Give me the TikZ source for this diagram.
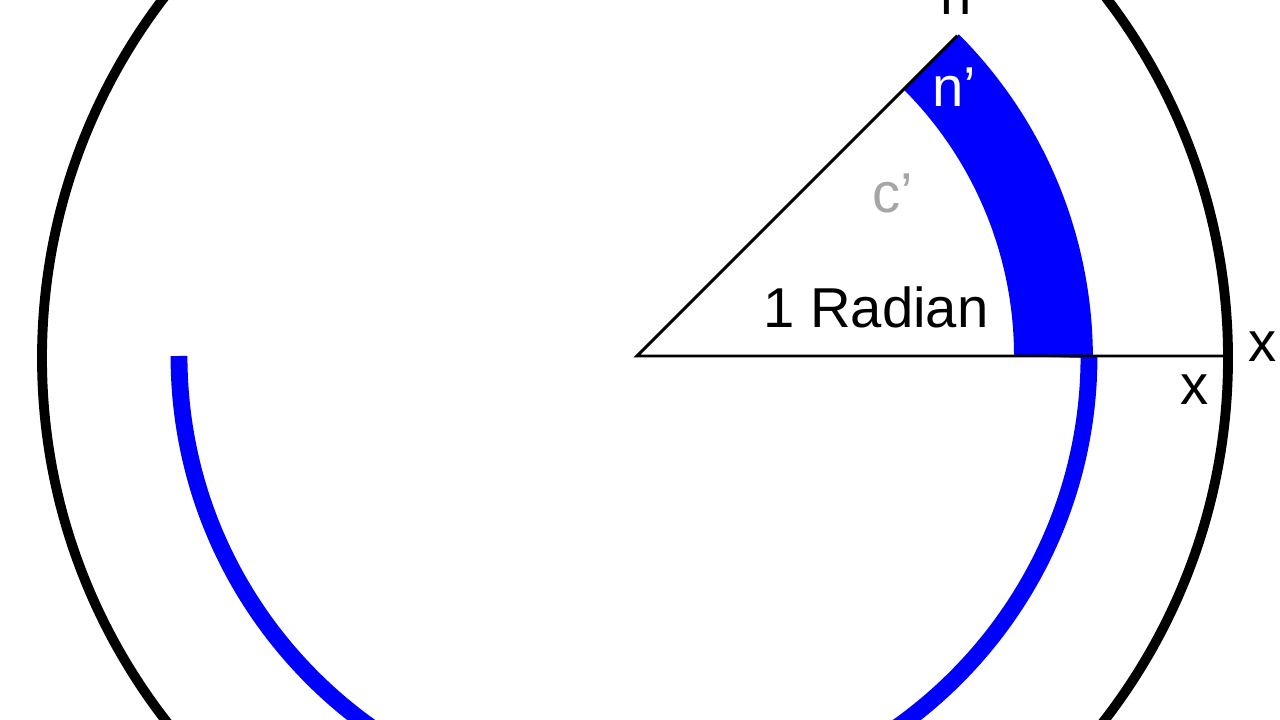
\documentclass[tikz,border=0pt]{standalone}
\usepackage{fontspec}
\setmainfont{Liberation Sans}
\usetikzlibrary{calc}
\tikzset{
  lbl/.style={font=\fontsize{16}{18}\selectfont, inner sep=0pt},
  ring/.style={line width=2.8pt, black},
  thin/.style={line width=0.85pt, black, line join=miter},
  bluearc/.style={line width=4.8pt, blue}
}
\begin{document}
\begin{tikzpicture}
\useasboundingbox (0,0) rectangle (12.8,-7.2);
\clip (0,0) rectangle (12.8,-7.2);
\coordinate (O) at (6.37,-3.56);
\coordinate (C) at (6.35,-3.58);
\coordinate (A) at (6.34,-3.56);
% big black circle
\draw[ring] (C) circle (5.93);
% blue lower half arc
\draw[bluearc] ($(A)+(180:4.55)$) arc[start angle=180, end angle=360, radius=4.55];
% blue annular sector
\fill[blue] ($(O)+(0:3.77)$) arc[start angle=0, end angle=45, radius=3.77]
  -- ($(O)+(45:4.55)$) arc[start angle=45, end angle=0, radius=4.58] -- cycle;
% triangle lines
\coordinate (T) at ($(O)+(45:4.53)$);
\coordinate (X) at (12.26,-3.56);
\draw[thin] (X) -- (O) -- (T);
% labels
\node[lbl, anchor=base] (rad) at (8.76,-3.28) {1 Radian};
\node[lbl, anchor=base, white] (np) at (9.54,-1.07) {n’};
\node[lbl, anchor=base, black!35] (cp) at (8.93,-2.13) {c’};
\node[lbl, anchor=base] (x1) at (11.95,-4.05) {x};
\node[lbl, anchor=base] (x2) at (12.63,-3.62) {x};
\node[lbl, anchor=base] (n) at (9.56,-0.15) {n};
\end{tikzpicture}
\end{document}
